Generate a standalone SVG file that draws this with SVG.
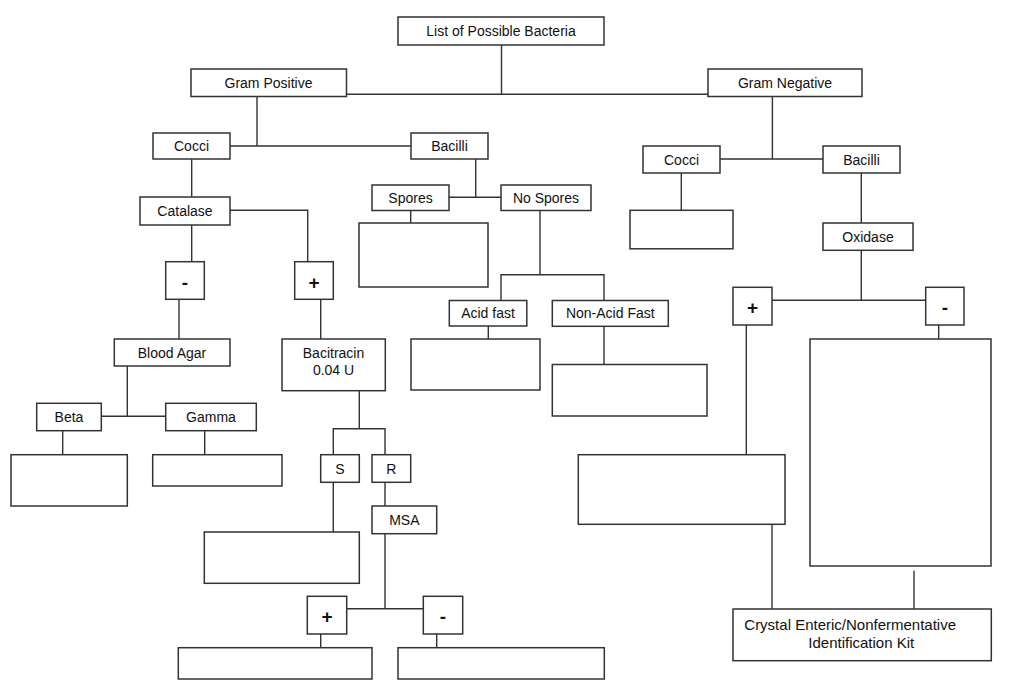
<svg xmlns="http://www.w3.org/2000/svg" width="1024" height="699" viewBox="0 0 1024 699">
<style>
rect{fill:#fff;stroke:#333;stroke-width:1.5}
text{font-family:"Liberation Sans",Arial,sans-serif;font-size:14px;fill:#111;text-anchor:middle}
text.sg{font-size:19px;font-weight:bold}
text.k{font-size:15px;text-anchor:start}
#connectors path{fill:none;stroke:#333;stroke-width:1.4}
</style>
<rect x="0" y="0" width="1024" height="699" style="stroke:none;fill:#fff"/>
<g id="connectors">
<path d="M501.5 45V94.3M346.5 94.3H708"/>
<path d="M257 96.7V146M230 146H411"/>
<path d="M772.4 96.7V159M720 159H823"/>
<path d="M475.7 159V197.3M449 197.3H501"/>
<path d="M191.7 159V197"/>
<path d="M191.7 225V261.7"/>
<path d="M230 210.3H307.7V261.7"/>
<path d="M179 299.3V339"/>
<path d="M320.7 299.3V339"/>
<path d="M410.7 210.3V223"/>
<path d="M540 210.3V274.7M501 300.5V274.7H604V300.5"/>
<path d="M488.3 326V339"/>
<path d="M604 326V364.5"/>
<path d="M681.3 173V210.3"/>
<path d="M861.3 173V223"/>
<path d="M861.3 250.3V300.3M771.7 300.3H925.7"/>
<path d="M746.3 325V454.7"/>
<path d="M938.7 325V339"/>
<path d="M939.5 352V377.3"/>
<path d="M772 522.7V609"/>
<path d="M914 570.7V609"/>
<path d="M127.3 366V416.3M101.3 416.3H165.7"/>
<path d="M62.7 430.7V454.7M204.7 430.7V454.7"/>
<path d="M359.3 390.7V428.7M333.3 454.7V428.7H385V454.7"/>
<path d="M333.3 482.3V532"/>
<path d="M385 482.3V506"/>
<path d="M385 533.7V608.7M346.7 608.7H423.3"/>
<path d="M320.7 634V647.7M436.7 634V647.7"/>
</g>
<g id="list"><rect x="398" y="17" width="206" height="28"/><text x="501" y="36">List of Possible Bacteria</text></g>
<g id="gram-positive"><rect x="191" y="69" width="155.5" height="27.5"/><text x="268.5" y="88">Gram Positive</text></g>
<g id="gram-negative"><rect x="708" y="69" width="154" height="27.5"/><text x="785" y="88">Gram Negative</text></g>
<g id="gp-cocci"><rect x="153" y="133" width="77" height="26"/><text x="191.5" y="151">Cocci</text></g>
<g id="gp-bacilli"><rect x="411" y="133" width="77" height="26"/><text x="449.5" y="151">Bacilli</text></g>
<g id="gn-cocci"><rect x="643" y="146" width="77" height="27"/><text x="681.5" y="164.5">Cocci</text></g>
<g id="gn-bacilli"><rect x="823" y="146" width="77" height="27"/><text x="861.5" y="164.5">Bacilli</text></g>
<g id="gn-cocci-result"><rect x="630" y="210.3" width="103" height="38.5"/></g>
<g id="catalase"><rect x="140" y="197" width="90" height="28"/><text x="185" y="216">Catalase</text></g>
<g id="spores"><rect x="372" y="185" width="77" height="25.5"/><text x="410.5" y="202.7">Spores</text></g>
<g id="no-spores"><rect x="501" y="185" width="90" height="25.5"/><text x="546" y="202.7">No Spores</text></g>
<g id="spores-result"><rect x="359" y="223" width="129" height="64"/></g>
<g id="catalase-minus"><rect x="165.7" y="261.7" width="38.6" height="37.6"/><text class="sg" x="185" y="288.5">-</text></g>
<g id="catalase-plus"><rect x="294.7" y="261.7" width="38.6" height="37.6"/><text class="sg" x="314" y="288.5">+</text></g>
<g id="oxidase"><rect x="823" y="223" width="90" height="27.3"/><text x="868" y="241.7">Oxidase</text></g>
<g id="oxidase-plus"><rect x="733" y="287.3" width="39" height="37.7"/><text class="sg" x="752.5" y="314">+</text></g>
<g id="oxidase-minus"><rect x="925.7" y="287.3" width="38.3" height="37.7"/><text class="sg" x="944.8" y="314">-</text></g>
<g id="acid-fast"><rect x="449.3" y="300.5" width="77.5" height="25.5"/><text x="488" y="318.2">Acid fast</text></g>
<g id="non-acid-fast"><rect x="552.3" y="300.5" width="116" height="25.8"/><text x="610.3" y="318.3">Non-Acid Fast</text></g>
<g id="acid-fast-result"><rect x="411" y="339" width="129" height="51"/></g>
<g id="non-acid-fast-result"><rect x="552.3" y="364.5" width="154.7" height="51.5"/></g>
<g id="blood-agar"><rect x="114.3" y="339" width="115.7" height="27"/><text x="172" y="357.5">Blood Agar</text></g>
<g id="bacitracin"><rect x="282" y="339" width="103.3" height="51.7"/><text x="333.5" y="358.3">Bacitracin</text><text x="333.5" y="375">0.04 U</text></g>
<g id="oxidase-minus-result"><rect x="810" y="339" width="181" height="227"/></g>
<g id="beta"><rect x="36.7" y="403.3" width="64.6" height="27.4"/><text x="69" y="422">Beta</text></g>
<g id="gamma"><rect x="165.7" y="403.3" width="90.6" height="27.4"/><text x="211" y="422">Gamma</text></g>
<g id="beta-result"><rect x="11" y="454.7" width="116.3" height="51.3"/></g>
<g id="gamma-result"><rect x="152.7" y="454.7" width="129.3" height="31.3"/></g>
<g id="s"><rect x="320.7" y="454.7" width="38.6" height="27.6"/><text x="340" y="473.5">S</text></g>
<g id="r"><rect x="372" y="454.7" width="38.7" height="27.6"/><text x="391.3" y="473.5">R</text></g>
<g id="oxidase-plus-result"><rect x="578.3" y="454.7" width="206.7" height="69.6"/></g>
<g id="msa"><rect x="372" y="506" width="64.7" height="27.7"/><text x="404.3" y="524.8">MSA</text></g>
<g id="s-result"><rect x="204.3" y="532" width="155" height="51.3"/></g>
<g id="msa-plus"><rect x="307.3" y="596.3" width="39.4" height="37.7"/><text class="sg" x="327" y="623">+</text></g>
<g id="msa-minus"><rect x="423.3" y="596.3" width="39.4" height="37.7"/><text class="sg" x="443" y="623">-</text></g>
<g id="crystal-kit"><rect x="733" y="609" width="258.3" height="51.7"/><text class="k" x="744.3" y="630">Crystal Enteric/Nonfermentative</text><text class="k" x="808.3" y="647.5">Identification Kit</text></g>
<g id="msa-plus-result"><rect x="178.3" y="647.7" width="193.7" height="31.3"/></g>
<g id="msa-minus-result"><rect x="398" y="647.7" width="206.3" height="31.3"/></g>
</svg>
